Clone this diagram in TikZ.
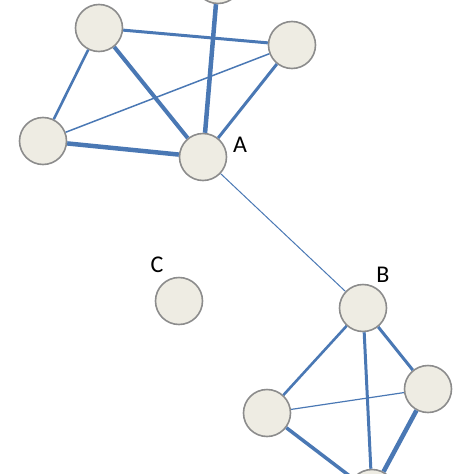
\documentclass[tikz,border=0pt]{standalone}
\usepackage{fontspec}
\setmainfont{Carlito}
\definecolor{edgeblue}{HTML}{4A78B4}
\definecolor{nodefill}{HTML}{EEECE3}
\definecolor{nodeline}{HTML}{8C8C8C}
\begin{document}
\begin{tikzpicture}[x=1pt,y=-1pt,
  vert/.style={circle,draw=nodeline,fill=nodefill,line width=1.6pt,minimum size=47pt,inner sep=0pt},
  lab/.style={font=\fontsize{24}{28}\selectfont,text=black,inner sep=0pt},
  ed/.style={draw=edgeblue,line cap=butt}]
\useasboundingbox (0,0) rectangle (474,474);
\clip (0,0) rectangle (474,474);
% nodes
\node[vert] (t) at (218,-20) {};
\node[vert] (n1) at (99,28) {};
\node[vert] (n3) at (292,45) {};
\node[vert] (n4) at (43,141) {};
\node[vert] (a) at (203,157) {};
\node[vert] (c) at (179,301) {};
\node[vert] (b) at (363,308) {};
\node[vert] (r) at (428,389) {};
\node[vert] (l) at (267,413) {};
\node[vert] (bt) at (372,493) {};
% edges
\path[ed,line width=3pt] (n1) -- (n3);
\path[ed,line width=2.6pt] (n1) -- (n4);
\path[ed,line width=4pt] (n1) -- (a);
\path[ed,line width=4.5pt] (t) -- (a);
\path[ed,line width=1.5pt] (n3) -- (n4);
\path[ed,line width=3pt] (n3) -- (a);
\path[ed,line width=4.5pt] (n4) -- (a);
\path[ed,line width=1pt] (a) -- (b);
\path[ed,line width=2.6pt] (b) -- (l);
\path[ed,line width=3pt] (b) -- (bt);
\path[ed,line width=3pt] (b) -- (r);
\path[ed,line width=1.2pt] (l) -- (r);
\path[ed,line width=3.5pt] (l) -- (bt);
\path[ed,line width=4.5pt] (r) -- (bt);
% labels
\node[lab] (la) at (240,145) {A};
\node[lab] (lc) at (157,265) {C};
\node[lab] (lb) at (383,275) {B};
\end{tikzpicture}
\end{document}
